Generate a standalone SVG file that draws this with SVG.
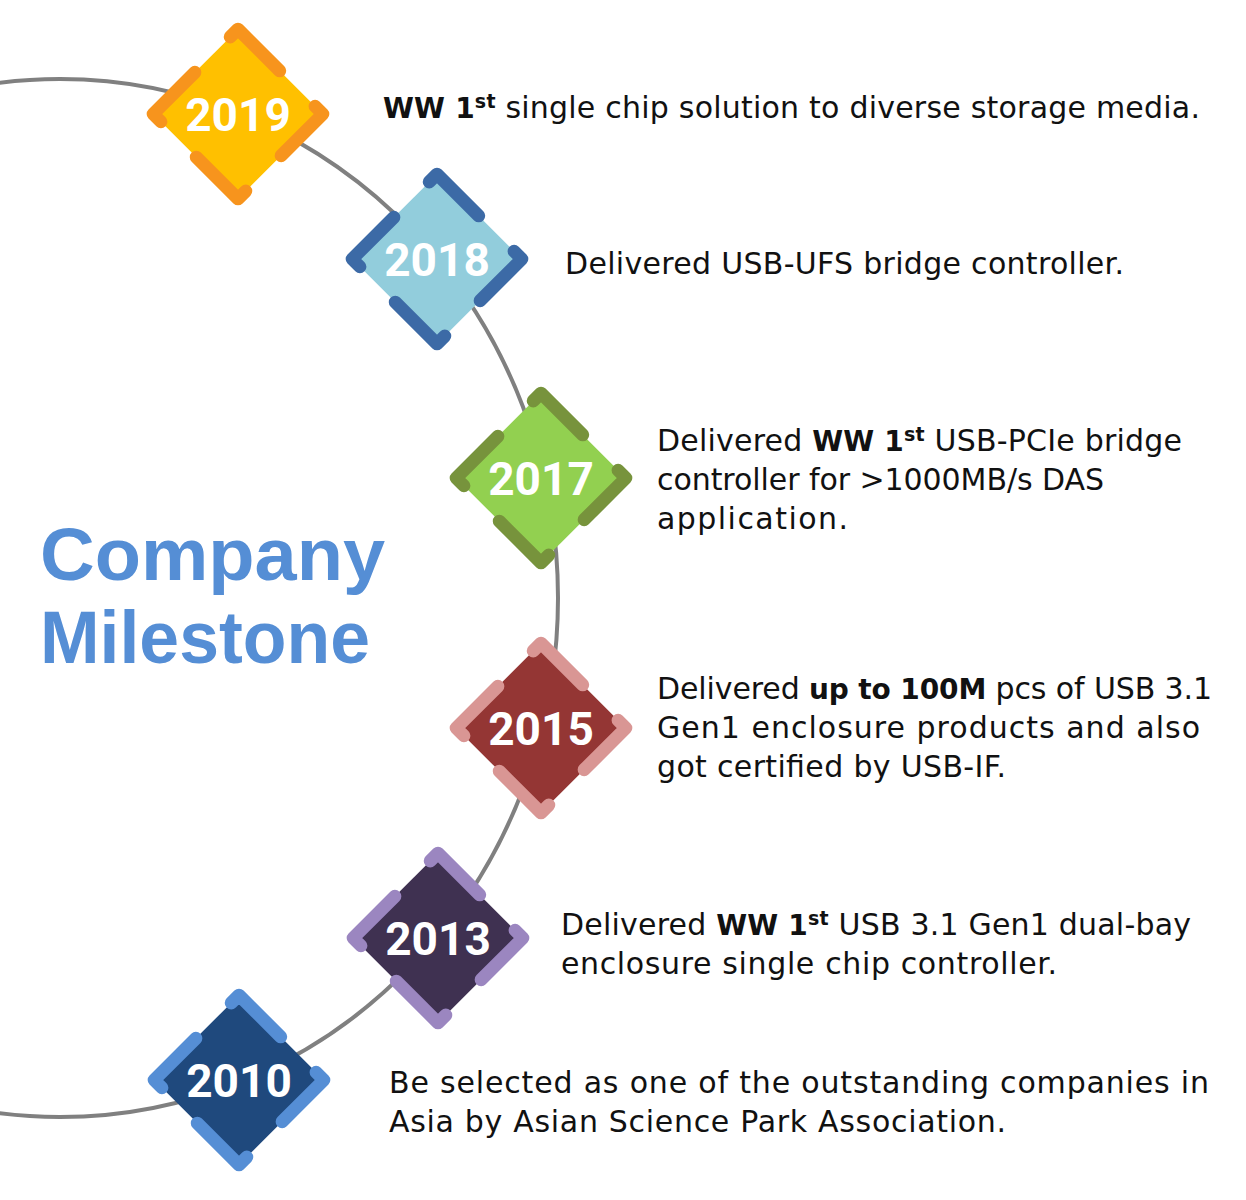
<svg xmlns="http://www.w3.org/2000/svg" width="1246" height="1200" viewBox="0 0 1246 1200">
<style>
.dia{stroke-width:13;stroke-linejoin:round;stroke-linecap:round;stroke-dasharray:70 50;stroke-dashoffset:11}
.yr{font-family:Roboto,"Liberation Sans",sans-serif;font-weight:700;font-size:46px;fill:#ffffff;text-anchor:middle}
.tx{font-family:"DejaVu Sans",Verdana,sans-serif;font-size:30px;fill:#111111}
.b{font-weight:700;font-size:28px}
.sup{font-weight:700;font-size:19px}
.title{font-family:"Liberation Sans",Arial,sans-serif;font-weight:700;font-size:74px;fill:#558ED5}
</style>
<rect width="1246" height="1200" fill="#ffffff"/>
<g id="connectors">
<ellipse cx="60" cy="598" rx="498" ry="519" fill="none" stroke="#808080" stroke-width="4"/>
</g>
<g id="title">
<text class="title" x="40" y="580" textLength="345" lengthAdjust="spacingAndGlyphs">Company</text>
<text class="title" x="40" y="663" textLength="330" lengthAdjust="spacingAndGlyphs">Milestone</text>
</g>
<g id="m2019">
<rect class="dia" x="-60" y="-60" width="120" height="120" transform="translate(238,114) rotate(45)" fill="#FFC000" stroke="#F7941D"/>
<text class="yr" x="238" y="131">2019</text>
<text class="tx" x="383" y="118" textLength="817" lengthAdjust="spacing"><tspan class="b">WW 1</tspan><tspan class="sup" dy="-10">st</tspan><tspan dy="10"> single chip solution to diverse storage media.</tspan></text>
</g>
<g id="m2018">
<rect class="dia" x="-60" y="-60" width="120" height="120" transform="translate(437,259) rotate(45)" fill="#92CDDC" stroke="#3C6AA6"/>
<text class="yr" x="437" y="276">2018</text>
<text class="tx" x="565" y="274" textLength="559" lengthAdjust="spacing">Delivered USB-UFS bridge controller.</text>
</g>
<g id="m2017">
<rect class="dia" x="-60" y="-60" width="120" height="120" transform="translate(541,478) rotate(45)" fill="#92D050" stroke="#77933C"/>
<text class="yr" x="541" y="495">2017</text>
<text class="tx" x="657" y="451" textLength="525" lengthAdjust="spacing">Delivered <tspan class="b">WW 1</tspan><tspan class="sup" dy="-10">st</tspan><tspan dy="10"> USB-PCIe bridge</tspan></text>
<text class="tx" x="657" y="490" textLength="447" lengthAdjust="spacing">controller for &gt;1000MB/s DAS</text>
<text class="tx" x="657" y="529" textLength="191" lengthAdjust="spacing">application.</text>
</g>
<g id="m2015">
<rect class="dia" x="-60" y="-60" width="120" height="120" transform="translate(541,728) rotate(45)" fill="#943634" stroke="#D99694"/>
<text class="yr" x="541" y="745">2015</text>
<text class="tx" x="657" y="699" textLength="555" lengthAdjust="spacing">Delivered <tspan class="b">up to 100M</tspan> pcs of USB 3.1</text>
<text class="tx" x="657" y="738" textLength="543" lengthAdjust="spacing">Gen1 enclosure products and also</text>
<text class="tx" x="657" y="777" textLength="349" lengthAdjust="spacing">got certified by USB-IF.</text>
</g>
<g id="m2013">
<rect class="dia" x="-60" y="-60" width="120" height="120" transform="translate(438,938) rotate(45)" fill="#3F3151" stroke="#9B86C0"/>
<text class="yr" x="438" y="955">2013</text>
<text class="tx" x="561" y="935" textLength="630" lengthAdjust="spacing">Delivered <tspan class="b">WW 1</tspan><tspan class="sup" dy="-10">st</tspan><tspan dy="10"> USB 3.1 Gen1 dual-bay</tspan></text>
<text class="tx" x="561" y="974" textLength="496" lengthAdjust="spacing">enclosure single chip controller.</text>
</g>
<g id="m2010">
<rect class="dia" x="-60" y="-60" width="120" height="120" transform="translate(239,1080) rotate(45)" fill="#1F497D" stroke="#558ED5"/>
<text class="yr" x="239" y="1097">2010</text>
<text class="tx" x="389" y="1093" textLength="820" lengthAdjust="spacing">Be selected as one of the outstanding companies in</text>
<text class="tx" x="389" y="1132" textLength="617" lengthAdjust="spacing">Asia by Asian Science Park Association.</text>
</g>
</svg>
